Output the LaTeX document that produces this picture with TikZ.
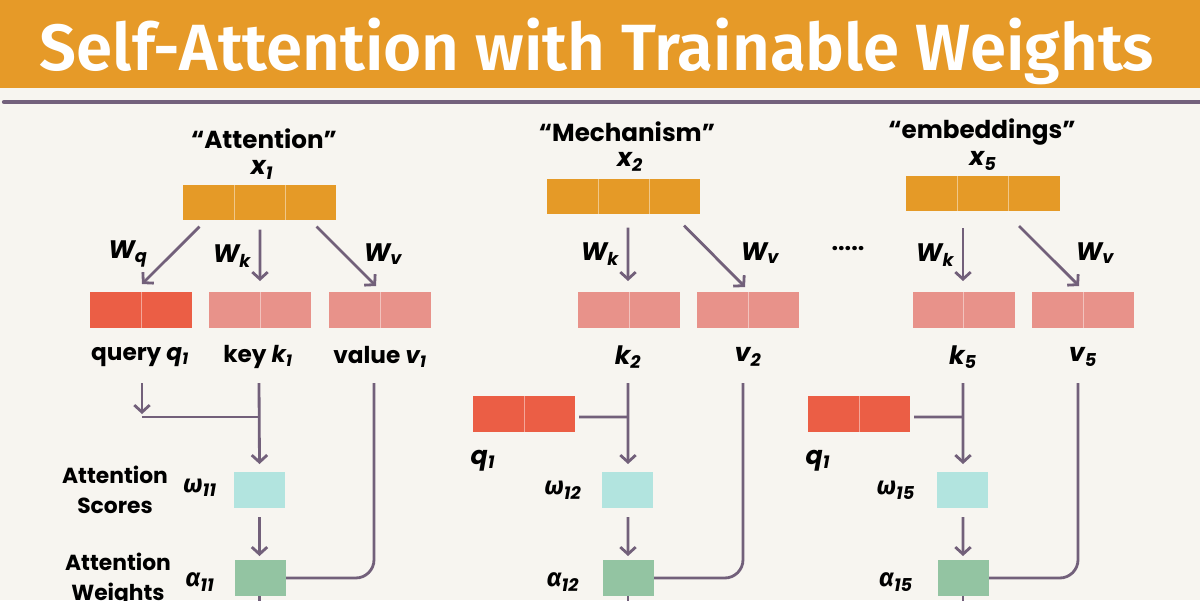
\documentclass[tikz,border=0pt]{standalone}
\usepackage{fontspec}
\setmainfont{Poppins}
\newfontfamily\titlefont{Fira Sans SemiBold}
\newfontfamily\greekfont{Fira Sans}
\usetikzlibrary{arrows.meta,calc}

\definecolor{bgcream}{HTML}{F7F5F0}
\definecolor{bandorange}{HTML}{E69A28}
\definecolor{rulepurple}{HTML}{73617C}
\definecolor{arrowpurple}{HTML}{72607A}
\definecolor{vecorange}{HTML}{E59A27}
\definecolor{queryred}{HTML}{EB5E45}
\definecolor{keypink}{HTML}{E8928A}
\definecolor{scorecyan}{HTML}{B2E4DF}
\definecolor{weightgreen}{HTML}{93C4A2}

\newcommand{\vlab}[2]{{\bfseries\itshape #1\textsubscript{#2}}}
\newcommand{\glab}[2]{{\bfseries\itshape{\greekfont #1}\textsubscript{#2}}}

\begin{document}
\begin{tikzpicture}[
    x=0.025cm, y=-0.025cm,
    arr/.style={draw=arrowpurple, line width=2pt, -{Straight Barb[length=5pt,width=11pt]}},
    link/.style={draw=arrowpurple, line width=2pt},
    divider/.style={draw=white, opacity=0.45, line width=0.6pt},
    cell/.style={inner sep=0pt, outer sep=0pt, minimum height=0.9cm},
    vec2/.style={cell, minimum width=2.55cm,
      path picture={\draw[divider] (path picture bounding box.north) -- (path picture bounding box.south);}},
    vec3/.style={cell, minimum width=3.825cm, minimum height=0.875cm, fill=vecorange,
      path picture={\foreach \f in {1/3,2/3}
        \draw[divider] ($(path picture bounding box.north west)!\f!(path picture bounding box.north east)$)
          -- ($(path picture bounding box.south west)!\f!(path picture bounding box.south east)$);}},
    score/.style={cell, minimum width=1.275cm, fill=scorecyan},
    weight/.style={cell, minimum width=1.275cm, fill=weightgreen},
    quote/.style={inner sep=0pt, font=\fontsize{17.5}{20}\selectfont\bfseries},
    word/.style={inner sep=1pt, font=\fontsize{16.5}{19}\selectfont\bfseries},
    sym/.style={inner sep=0pt, font=\fontsize{18}{20}\selectfont},
    side/.style={inner sep=1pt, align=center, font=\fontsize{15.5}{21}\selectfont\bfseries},
  ]

  \useasboundingbox (0,0) rectangle (1200,600);
  \clip (0,0) rectangle (1200,600);
  \fill[bgcream] (0,0) rectangle (1200,600);

  % Title band
  \fill[bandorange] (0,0) rectangle (1200,88);
  \node[text=white, font=\titlefont\fontsize{46.5}{50}\selectfont] (title) at (597,51)
    {Self-Attention with Trainable Weights};
  \draw[rulepurple, line width=3pt, line cap=round] (4,102) -- (1204,102);

  % Token 1: "Attention"
  \node[quote] (t1) at (264,139) {“Attention”};
  \node[sym] (lx1) at (262,170) {\vlab{x}{1}};
  \node[vec3] (x1) at (259.5,202) {};
  \node[vec2, fill=queryred] (q1) at (141,310) {};
  \node[vec2, fill=keypink] (k1) at (260,310) {};
  \node[vec2, fill=keypink] (v1) at (380,310) {};
  \draw[arr] ($(x1.south)+(-60,7)$) -- ($(q1.north)+(1,-8)$);
  \draw[arr] ($(x1.south)+(0.5,10)$) -- ($(k1.north)+(0,-11)$);
  \draw[arr] ($(x1.south)+(57,7)$) -- ($(v1.north)+(-4,-6)$);
  \node[sym] (wq1) at (128,254) {\vlab{W}{q}};
  \node[sym] (wk1) at (232,256) {\vlab{W}{k}};
  \node[sym] (wv1) at (383,254) {\vlab{W}{v}};
  \node[word] (lq1) at (140,357) {query \vlab{q}{1}};
  \node[word] (lk1) at (258,357) {key \vlab{k}{1}};
  \node[word] (lv1) at (380,357) {value \vlab{v}{1}};

  \node[score] (w11) at (259.5,490) {};
  \node[weight] (a11) at (260.5,578) {};
  \coordinate (j1) at ($(k1.south)+(-1,89)$);
  \draw[arr] ($(q1.south)+(1,55)$) -- ++(0,31);
  \draw[link] ($(q1.south)+(1,89)$) -- (j1);
  \draw[arr] ($(k1.south)+(-1,55)$) -- ($(w11.north)+(0,-8)$);
  \draw[arr] ($(w11.south)+(0,9)$) -- ($(a11.north)+(-1,-4)$);
  \draw[link, rounded corners=13pt] ($(v1.south)+(-6,55)$) |- (a11.east);
  \draw[link] ($(a11.south)+(-1,0)$) -- ++(0,20);
  \node[side] (ls1) at (115,490) {Attention\\Scores};
  \node[sym] (lo11) at (200,488) {\glab{ω}{11}};
  \node[side] (lw1) at (118,580) {Attention\\Weights};
  \node[sym] (la11) at (200,582) {\glab{α}{11}};

  % Token 2: "Mechanism"
  \node[quote] (t2) at (627,132) {“Mechanism”};
  \node[sym] (lx2) at (630,162) {\vlab{x}{2}};
  \node[vec3] (x2) at (623.5,196) {};
  \node[vec2, fill=keypink] (k2) at (629,310) {};
  \node[vec2, fill=keypink] (v2) at (748,310) {};
  \draw[arr] ($(x2.south)+(4.5,14)$) -- ($(k2.north)+(-1,-11)$);
  \draw[arr] ($(x2.south)+(60.5,12)$) -- ($(v2.north)+(-3,-5)$);
  \node[sym] (wk2) at (600,254) {\vlab{W}{k}};
  \node[sym] (wv2) at (760,253) {\vlab{W}{v}};
  \node[sym] (lk2) at (628,357) {\vlab{k}{2}};
  \node[sym] (lv2) at (748,357) {\vlab{v}{2}};

  \node[vec2, fill=queryred] (qb2) at (524,414) {};
  \node[sym] (lq2) at (483,461) {\vlab{q}{1}};
  \node[score] (w12) at (627.5,490) {};
  \node[weight] (a12) at (628.5,578) {};
  \coordinate (j2) at ($(k2.south)+(-1,89)$);
  \draw[link] ($(qb2.east)+(4,3)$) -- (j2);
  \draw[arr] ($(k2.south)+(-1,55)$) -- ($(w12.north)+(0.5,-8)$);
  \draw[arr] ($(w12.south)+(0.5,9)$) -- ($(a12.north)+(-0.5,-4)$);
  \draw[link, rounded corners=13pt] ($(v2.south)+(-5,55)$) |- (a12.east);
  \draw[link] ($(a12.south)+(-0.5,0)$) -- ++(0,20);
  \node[sym] (lo12) at (563,490) {\glab{ω}{12}};
  \node[sym] (la12) at (563,582) {\glab{α}{12}};

  % Token 5: "embeddings"
  \node[quote] (t3) at (982,132) {“embeddings”};
  \node[sym] (lx5) at (983,161) {\vlab{x}{5}};
  \node[vec3] (x5) at (983,193.5) {};
  \node[vec2, fill=keypink] (k5) at (963.5,310) {};
  \node[vec2, fill=keypink] (v5) at (1083,310) {};
  \draw[arr] ($(x5.south)+(-20,17)$) -- ($(k5.north)+(-0.5,-11)$);
  \draw[arr] ($(x5.south)+(36,15)$) -- ($(v5.north)+(-4,-6)$);
  \node[word] (dots) at (848,249) {.....};
  \node[sym] (wk5) at (935,255) {\vlab{W}{k}};
  \node[sym] (wv5) at (1095,253) {\vlab{W}{v}};
  \node[sym] (lk5) at (963,357) {\vlab{k}{5}};
  \node[sym] (lv5) at (1083,357) {\vlab{v}{5}};

  \node[vec2, fill=queryred] (qb5) at (859,414) {};
  \node[sym] (lq5) at (818,461) {\vlab{q}{1}};
  \node[score] (w15) at (962.5,490) {};
  \node[weight] (a15) at (963.5,578) {};
  \coordinate (j5) at ($(k5.south)+(-0.5,89)$);
  \draw[link] ($(qb5.east)+(4,3)$) -- (j5);
  \draw[arr] ($(k5.south)+(-0.5,55)$) -- ($(w15.north)+(0.5,-8)$);
  \draw[arr] ($(w15.south)+(0.5,9)$) -- ($(a15.north)+(-0.5,-4)$);
  \draw[link, rounded corners=13pt] ($(v5.south)+(-5,55)$) |- (a15.east);
  \draw[link] ($(a15.south)+(-0.5,0)$) -- ++(0,20);
  \node[sym] (lo15) at (896,490) {\glab{ω}{15}};
  \node[sym] (la15) at (896,582) {\glab{α}{15}};

\end{tikzpicture}
\end{document}
